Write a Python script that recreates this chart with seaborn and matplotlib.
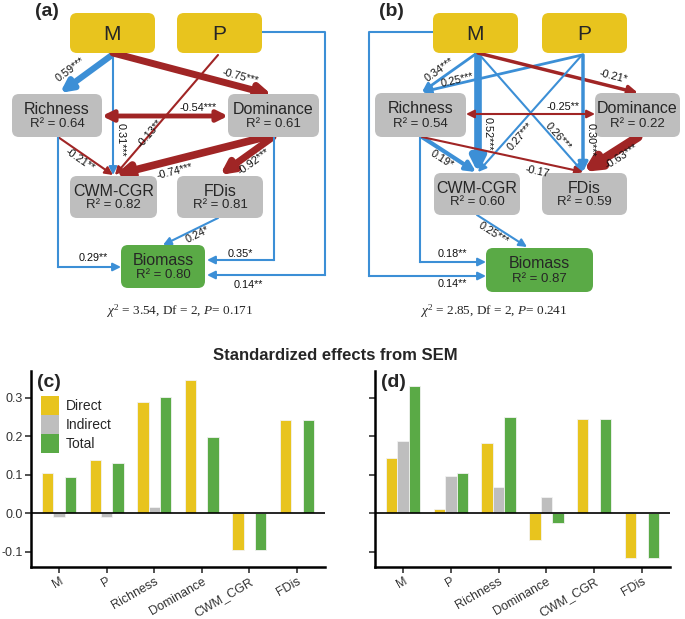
import numpy as np
import pandas as pd
import matplotlib
matplotlib.use("Agg")
import matplotlib.pyplot as plt
import seaborn as sns
from matplotlib.patches import FancyBboxPatch, FancyArrowPatch, Patch

# -----------------------------
# Data
# -----------------------------
effects = ["M", "P", "Richness", "Dominance", "CWM_CGR", "FDis"]
effect_types = ["Direct", "Indirect", "Total"]

c_direct = [0.104, 0.138, 0.289, 0.347, -0.097, 0.243]
c_indirect = [-0.011, -0.009, 0.015, 0.0, 0.0, 0.0]
c_total = [0.095, 0.130, 0.302, 0.197, -0.097, 0.243]

d_direct = [0.143, 0.010, 0.183, -0.069, 0.246, -0.117]
d_indirect = [0.188, 0.096, 0.067, 0.043, 0.0, 0.0]
d_total = [0.330, 0.105, 0.250, -0.025, 0.246, -0.117]

# SEM node R2 values
a_r2 = {"Richness": "0.64", "Dominance": "0.61", "CWM-CGR": "0.82", "FDis": "0.81", "Biomass": "0.80"}
b_r2 = {"Richness": "0.54", "Dominance": "0.22", "CWM-CGR": "0.60", "FDis": "0.59", "Biomass": "0.87"}

a_fit = r"$\chi^2$ = 3.54, Df = 2, $P$= 0.171"
b_fit = r"$\chi^2$ = 2.85, Df = 2, $P$= 0.241"

# SEM paths: (from, to, coefficient)
a_paths = [
    ("M", "Richness", "0.59***"), ("M", "CWM-CGR", "0.31***"), ("M", "Dominance", "-0.75***"),
    ("P", "CWM-CGR", "-0.13**"), ("P", "Biomass", "0.14**"), ("Richness", "Dominance", "-0.54***"),
    ("Richness", "CWM-CGR", "-0.21**"), ("Dominance", "CWM-CGR", "-0.74***"),
    ("Dominance", "FDis", "-0.92***"), ("Richness", "Biomass", "0.29**"),
    ("FDis", "Biomass", "0.24*"), ("Dominance", "Biomass", "0.35*"),
]
b_paths = [
    ("M", "Biomass", "0.14**"), ("M", "Richness", "0.34***"), ("P", "Richness", "0.25***"),
    ("M", "CWM-CGR", "0.52***"), ("M", "FDis", "0.26***"), ("M", "Dominance", "-0.21*"),
    ("P", "CWM-CGR", "0.27***"), ("P", "FDis", "0.30***"), ("Richness", "Dominance", "-0.25**"),
    ("Richness", "CWM-CGR", "0.19*"), ("Richness", "FDis", "-0.17"),
    ("Dominance", "FDis", "-0.63***"), ("Richness", "Biomass", "0.18**"),
    ("CWM-CGR", "Biomass", "0.25***"),
]

# -----------------------------
# Layout (pixel coords) and styles
# -----------------------------
YELLOW, GREY, GREEN = "#E8C41E", "#BEBEBE", "#5AAA46"
BLUE, RED = "#3C8FD6", "#A02525"

a_boxes = {"M": (70, 13, 85, 40), "P": (177, 13, 85, 40),
           "Richness": (12, 94, 90, 43), "Dominance": (228, 94, 91, 43),
           "CWM-CGR": (70, 176, 87, 42), "FDis": (177, 176, 86, 42),
           "Biomass": (121, 245, 84, 43)}
b_boxes = {"M": (433, 13, 85, 40), "P": (542, 13, 85, 40),
           "Richness": (375, 93, 91, 44), "Dominance": (595, 93, 85, 44),
           "CWM-CGR": (434, 173, 86, 42), "FDis": (542, 173, 85, 42),
           "Biomass": (486, 248, 107, 44)}

# per path: geometry, colour, width, label position, rotation (None = along line), two-headed
a_geom = [
    ([(112, 55), (60, 93)], BLUE, 4.5, (70, 70), None, False),
    ([(113, 55), (113, 175)], BLUE, 1.5, (121, 140), -90, False),
    ([(113, 53), (272, 95)], RED, 5.0, (240, 77), None, False),
    ([(218, 55), (115, 175)], RED, 1.5, (150, 133), None, False),
    ([(262, 32), (325, 32), (325, 275), (207, 275)], BLUE, 1.5, (248, 285), 0, False),
    ([(102, 116), (228, 116)], RED, 3.5, (198, 108), 0, True),
    ([(58, 137), (113, 175)], RED, 1.5, (80, 160), None, False),
    ([(273, 135), (115, 175)], RED, 5.5, (175, 172), None, False),
    ([(273, 137), (220, 175)], RED, 5.0, (254, 162), None, False),
    ([(58, 137), (58, 267), (121, 267)], BLUE, 1.5, (93, 258), 0, False),
    ([(218, 218), (163, 245)], BLUE, 1.5, (198, 235), None, False),
    ([(274, 137), (274, 260), (207, 260)], BLUE, 1.5, (240, 254), 0, False),
]
b_geom = [
    ([(433, 32), (369, 32), (369, 276), (486, 276)], BLUE, 1.5, (452, 284), 0, False),
    ([(477, 53), (422, 92)], BLUE, 2.0, (440, 70), None, False),
    ([(582, 55), (422, 92)], BLUE, 2.0, (457, 80), None, False),
    ([(478, 53), (478, 173)], BLUE, 5.5, (488, 134), -90, False),
    ([(478, 53), (583, 172)], BLUE, 1.5, (558, 137), None, False),
    ([(478, 53), (638, 93)], RED, 2.5, (613, 77), None, False),
    ([(582, 55), (478, 172)], BLUE, 1.5, (520, 137), None, False),
    ([(583, 55), (583, 172)], BLUE, 2.5, (591, 140), -90, False),
    ([(466, 114), (595, 114)], RED, 1.5, (563, 107), 0, True),
    ([(422, 137), (476, 172)], BLUE, 3.0, (442, 159), None, False),
    ([(422, 137), (583, 172)], RED, 1.5, (537, 172), None, False),
    ([(638, 137), (583, 172)], RED, 6.5, (622, 157), None, False),
    ([(420, 137), (420, 262), (486, 262)], BLUE, 1.5, (452, 254), 0, False),
    ([(477, 215), (527, 247)], BLUE, 1.5, (493, 234), None, False),
]

sns.set_theme(style="ticks")
plt.rcParams["font.family"] = ["Liberation Sans", "DejaVu Sans"]
plt.rcParams["mathtext.fontset"] = "custom"
plt.rcParams["mathtext.rm"] = "Liberation Serif"
plt.rcParams["mathtext.it"] = "Liberation Serif:italic"

fig = plt.figure(figsize=(6.85, 6.19), dpi=100)
dax = fig.add_axes([0, 0, 1, 1])
dax.set_xlim(0, 685)
dax.set_ylim(619, 0)
dax.axis("off")


def draw_sem(ax, boxes, r2, paths, geom, fit_text, fit_x, tag, tag_x):
    for (src, dst, coef), (pts, col, lw, lab, rot, both) in zip(paths, geom):
        if len(pts) > 2:
            xs = [p[0] for p in pts[:-1]]
            ys = [p[1] for p in pts[:-1]]
            ax.plot(xs, ys, color=col, lw=lw, solid_capstyle="projecting", zorder=2)
        style = "<|-|>" if both else "-|>"
        arr = FancyArrowPatch(pts[-2], pts[-1], arrowstyle=style, mutation_scale=9 + 1.9 * lw,
                              color=col, lw=lw, shrinkA=0, shrinkB=0, zorder=2)
        ax.add_patch(arr)
        if rot is None:
            (x0, y0), (x1, y1) = pts[-2], pts[-1]
            rot = np.degrees(np.arctan2(-(y1 - y0), x1 - x0))
            if rot > 90:
                rot -= 180
            elif rot < -90:
                rot += 180
        ax.text(lab[0], lab[1], coef, fontsize=7.8, rotation=rot, rotation_mode="anchor",
                ha="center", va="center", color="#111111", zorder=4)
    for name, (x, y, w, h) in boxes.items():
        fc = YELLOW if name in ("M", "P") else (GREEN if name == "Biomass" else GREY)
        ax.add_patch(FancyBboxPatch((x, y), w, h, boxstyle="round,pad=0,rounding_size=7",
                                    fc=fc, ec="none", zorder=3))
        if name in ("M", "P"):
            ax.text(x + w / 2, y + h / 2 + 1, name, fontsize=15, ha="center", va="center", zorder=4)
        else:
            ax.text(x + w / 2, y + h * 0.36, name, fontsize=11.5, ha="center", va="center", zorder=4)
            ax.text(x + w / 2, y + h * 0.7, "R\u00b2 = " + r2[name], fontsize=9.5,
                    ha="center", va="center", zorder=4)
    ax.text(fit_x, 311, fit_text, fontsize=9.5, ha="center", va="center",
            family="Liberation Serif")
    ax.text(tag_x, 12, tag, fontsize=14, fontweight="bold", ha="left", va="center")


draw_sem(dax, a_boxes, a_r2, a_paths, a_geom, a_fit, 180, "(a)", 35)
draw_sem(dax, b_boxes, b_r2, b_paths, b_geom, b_fit, 494, "(b)", 379)

dax.text(335, 356, "Standardized effects from SEM", fontsize=12, fontweight="bold",
         ha="center", va="center")

# -----------------------------
# Bar charts
# -----------------------------
palette = {"Direct": YELLOW, "Indirect": GREY, "Total": GREEN}


def make_df(direct, indirect, total):
    return pd.DataFrame({
        "Variable": effects * 3,
        "Effect": np.repeat(effect_types, len(effects)),
        "Value": direct + indirect + total,
    })


panels = [
    ([31 / 685, 1 - 567 / 619, 294 / 685, 196 / 619], make_df(c_direct, c_indirect, c_total), "(c)", True),
    ([375 / 685, 1 - 567 / 619, 295 / 685, 196 / 619], make_df(d_direct, d_indirect, d_total), "(d)", False),
]

for rect, df, tag, first in panels:
    ax = fig.add_axes(rect)
    ax.patch.set_alpha(0)
    sns.barplot(data=df, x="Variable", y="Value", hue="Effect", palette=palette,
                width=0.72, edgecolor="#f2f2f2", linewidth=0.6, errorbar=None,
                saturation=1, legend=False, ax=ax)
    ax.axhline(0, color="black", lw=1.2, zorder=3)
    ax.set_xlim(-0.59, 5.59)
    ax.set_ylim(-0.14, 0.37)
    ax.set_yticks([-0.1, 0.0, 0.1, 0.2, 0.3])
    if first:
        ax.set_yticklabels(["-0.1", "0.0", "0.1", "0.2", "0.3"])
    else:
        ax.set_yticklabels([])
    ax.set_xlabel("")
    ax.set_ylabel("")
    sns.despine(ax=ax)
    for s in ("left", "bottom"):
        ax.spines[s].set_linewidth(1.8)
        ax.spines[s].set_color("black")
    ax.tick_params(axis="both", length=4, width=1.2, color="#333333", labelsize=9,
                   labelcolor="#333333", pad=2)
    plt.setp(ax.get_xticklabels(), rotation=30, ha="right", va="top", rotation_mode="anchor")
    ax.text(0.02, 0.985, tag, transform=ax.transAxes, fontsize=14, fontweight="bold",
            ha="left", va="top")
    if first:
        handles = [Patch(facecolor=palette[k], edgecolor="none", label=k) for k in effect_types]
        ax.legend(handles=handles, loc="upper left", bbox_to_anchor=(0.035, 0.87), frameon=False,
                  fontsize=10, handlelength=1.3, handleheight=1.7, labelspacing=0.0,
                  handletextpad=0.45, borderaxespad=0, borderpad=0)

fig.savefig("out.png", dpi=100)
